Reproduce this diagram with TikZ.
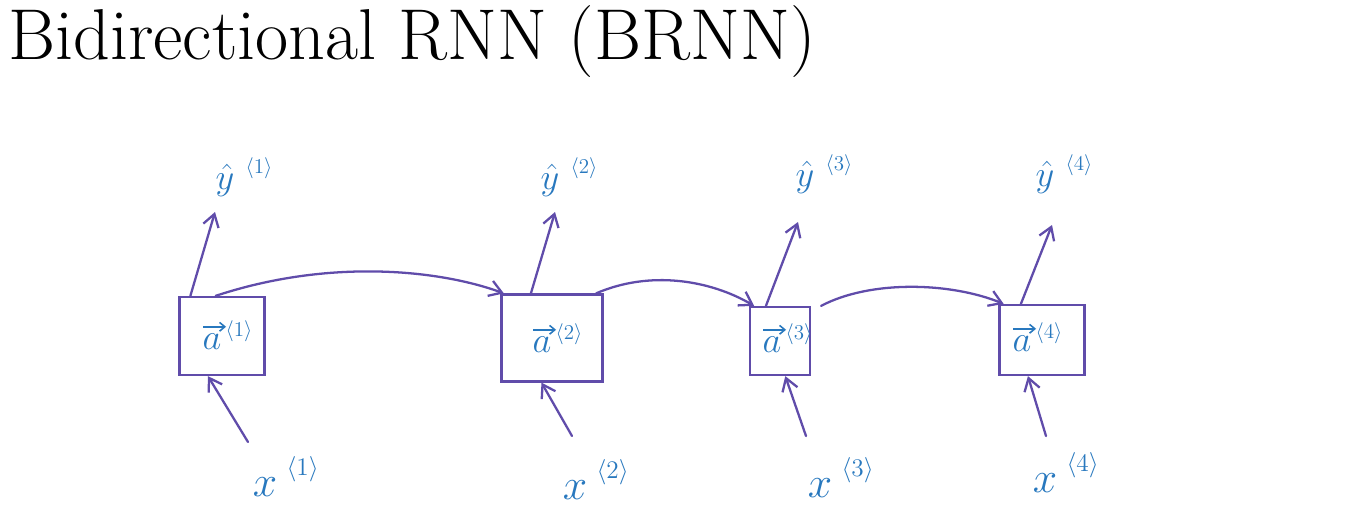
\documentclass[tikz,border=0pt]{standalone}
\usetikzlibrary{arrows.meta}
\begin{document}
\begin{tikzpicture}[x=0.02cm,y=-0.02cm,
  pen/.style={draw=penc,line width=1.3pt,line cap=round},
  arr/.style={pen,-{Straight Barb[length=7pt,width=9pt]}},
  cell/.style={draw=penc,line width=1.3pt,inner sep=0pt},
  lab/.style={text=inkc,font=\fontsize{22}{24}\selectfont},
  sup/.style={text=inkc,font=\fontsize{12}{14}\selectfont,inner sep=1pt}]
\definecolor{penc}{RGB}{96,76,170}
\definecolor{inkc}{RGB}{40,120,190}
\useasboundingbox (0,0) rectangle (1366,511);
\node[anchor=west,font=\fontsize{41}{44}\selectfont] (title) at (2,42) {Bidirectional RNN (BRNN)};
% cells
\node[cell,minimum width=1.7cm,minimum height=1.56cm] (c1) at (222,336) {};
\node[cell,minimum width=2.02cm,minimum height=1.74cm] (c2) at (552,338) {};
\node[cell,minimum width=1.2cm,minimum height=1.36cm] (c3) at (780,341) {};
\node[cell,minimum width=1.7cm,minimum height=1.4cm] (c4) at (1042,340) {};
% labels inside
\foreach \i/\n/\x/\y in {1/1/212/342,2/2/542/345,3/3/772/345,4/4/1022/344}{
  \node[lab,inner sep=1pt] (a\i) at (\x,\y) {$a$};
  \node[sup,anchor=west] (as\i) at ([yshift=6pt]a\i.east) {$\langle \n\rangle$};
  \draw[inkc,line width=0.9pt,-{Straight Barb[length=3pt,width=5pt]}] ([yshift=3pt,xshift=-5pt]a\i.north) -- ([yshift=3pt,xshift=8pt]a\i.north);
}
% inputs
\foreach \i/\x/\y/\sx/\sy in {1/265/487/248/442,2/575/490/572/436,3/820/488/806/436,4/1045/483/1046/436}{
  \node[lab,font=\fontsize{28}{30}\selectfont,inner sep=1pt] (x\i) at (\x,\y) {$x$};
  \node[sup,anchor=west,font=\fontsize{14}{16}\selectfont] (xs\i) at ([xshift=3pt,yshift=10pt]x\i.east) {$\langle \i\rangle$};
  \coordinate (xb\i) at (\sx,\sy);
}
\draw[arr] (xb1) -- ([xshift=-8pt]c1.south);
\draw[arr] (xb2) -- ([xshift=-6pt]c2.south);
\draw[arr] (xb3) -- ([xshift=3pt]c3.south);
\draw[arr] (xb4) -- ([xshift=-8pt]c4.south);
% outputs
\foreach \i/\x/\y/\tx/\ty in {1/225/180/215/212,2/550/180/555/212,3/805/177/798/222,4/1045/177/1052/225}{
  \node[lab,inner sep=1pt] (y\i) at (\x,\y) {$\hat{y}$};
  \node[sup,anchor=west] (ys\i) at ([xshift=4pt,yshift=-4pt]y\i.north east) {$\langle \i\rangle$};
  \coordinate (yt\i) at (\tx,\ty);
}
\draw[arr] ([xshift=-18pt]c1.north) -- (yt1);
\draw[arr] ([xshift=-12pt]c2.north) -- (yt2);
\draw[arr] ([xshift=-8pt]c3.north) -- (yt3);
\draw[arr] ([xshift=-12pt]c4.north) -- (yt4);
% forward connections
\draw[arr] ([xshift=-1cm]c1.north east) .. controls (330,258) and (440,270) .. ([xshift=2pt]c2.north west);
\draw[arr] ([xshift=-0.15cm]c2.north east) .. controls (650,270) and (710,280) .. ([xshift=3pt]c3.north west);
\draw[arr] ([xshift=0.2cm]c3.north east) .. controls (870,280) and (950,282) .. ([xshift=3pt]c4.north west);
\end{tikzpicture}
\end{document}
